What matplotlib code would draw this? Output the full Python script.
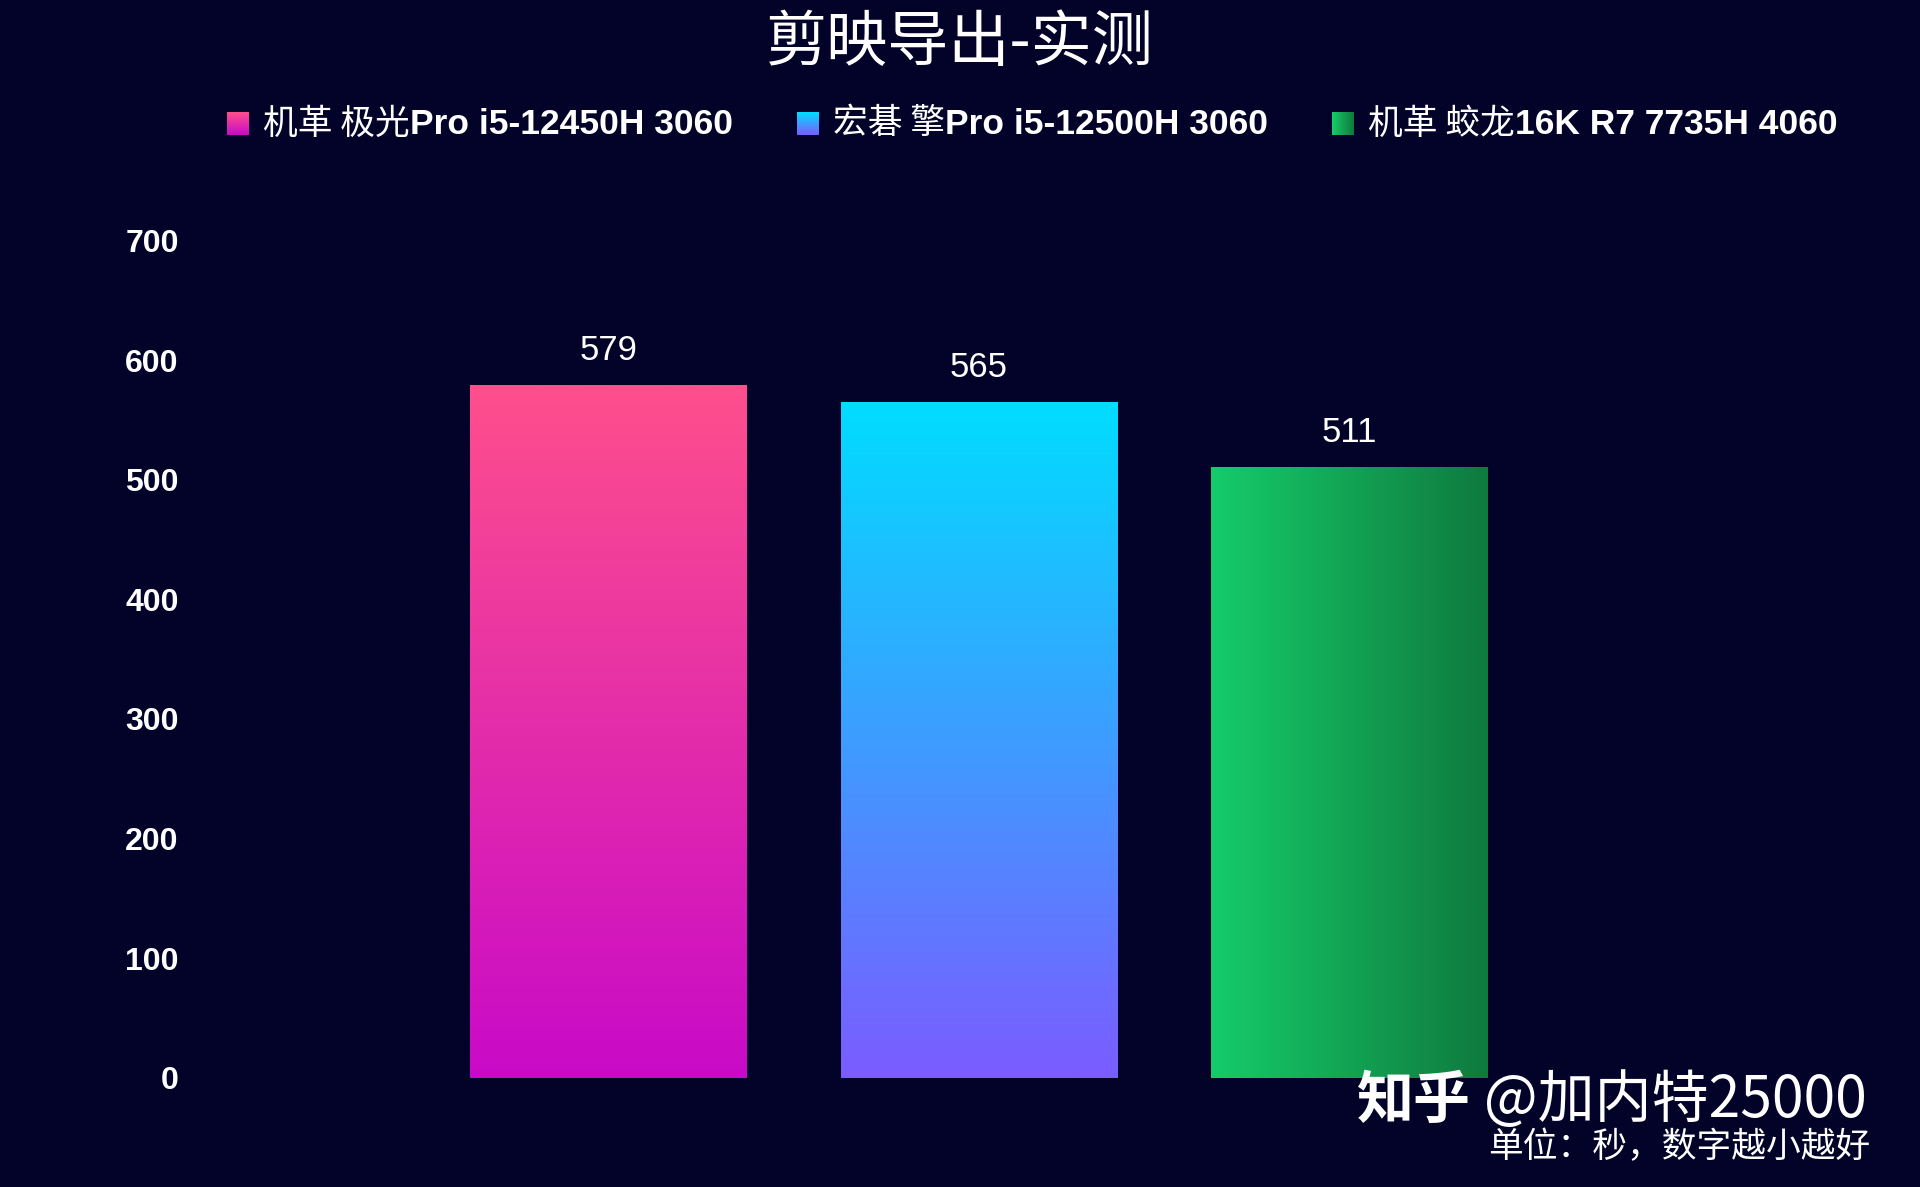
import numpy as np
import matplotlib
matplotlib.use("Agg")
import matplotlib.pyplot as plt
from matplotlib.colors import LinearSegmentedColormap

# donnees
series = ["机革 极光Pro i5-12450H 3060", "宏碁 擎Pro i5-12500H 3060", "机革 蛟龙16K R7 7735H 4060"]
legend_cjk = ["机革 极光", "宏碁 擎", "机革 蛟龙"]
legend_lat = ["Pro i5-12450H 3060", "Pro i5-12500H 3060", "16K R7 7735H 4060"]
values = [579, 565, 511]
yticks = [0, 100, 200, 300, 400, 500, 600, 700]
title = "剪映导出-实测"
unit = "单位：秒，数字越小越好"
mark_a = "知乎"
mark_b = " @加内特25000"

BG = "#03032a"
# (debut, fin, sens) du degrade de chaque barre
grads = [("#c80ac8", "#ff4f8c", "v"), ("#7b5cff", "#00ddff", "v"), ("#15cc6a", "#0f7a3e", "h")]

LAT = ["Liberation Sans", "DejaVu Sans"]
CJK = ["Noto Sans CJK SC", "DejaVu Sans"]
MIX = ["Liberation Sans", "Noto Sans CJK SC", "DejaVu Sans"]

fig = plt.figure(figsize=(19.2, 11.87), dpi=100, facecolor=BG)
ax = fig.add_axes([0.104, 0.0922, 0.87, 0.705])
ax.set_facecolor(BG)

x = np.arange(len(values))
bars = ax.bar(x, values, width=0.745, color="none", edgecolor="none")


def gradient(bar, c0, c1, sens):
    "Remplit une barre avec un degrade clippe sur le rectangle"
    cmap = LinearSegmentedColormap.from_list("g", [c0, c1])
    g = np.linspace(0, 1, 256)
    if sens == "v":
        img = g.reshape(-1, 1)
    else:
        img = g.reshape(1, -1)
    bx, by = bar.get_x(), bar.get_y()
    w, h = bar.get_width(), bar.get_height()
    im = ax.imshow(img, cmap=cmap, aspect="auto", origin="lower",
                   extent=(bx, bx + w, by, by + h), zorder=2)
    im.set_clip_path(bar)


for b, (c0, c1, s) in zip(bars, grads):
    gradient(b, c0, c1, s)

for xi, v in zip(x, values):
    ax.annotate(str(v), (xi, v), xytext=(0, 13), textcoords="offset points",
                ha="center", va="bottom", color="white", fontsize=25, family=MIX)

ax.set_xlim(-1.102, 3.405)
ax.set_ylim(0, 700)
ax.set_yticks(yticks)
ax.set_yticklabels([str(t) for t in yticks], fontsize=23, fontweight="bold",
                   color="white", family=LAT)
ax.tick_params(axis="y", length=0, pad=15)
ax.set_xticks([])
for sp in ax.spines.values():
    sp.set_visible(False)

# titre
fig.text(0.5, 0.963, title, ha="center", va="center", color="white",
         fontsize=44, fontweight="medium", family=CJK)

# legende faite a la main (texte mixte: chinois fin + latin gras)
sq_x = [227, 797, 1332]
for i in range(3):
    c0, c1, s = grads[i]
    sq = fig.add_axes([sq_x[i] / 1920, 1 - 135 / 1187, 22 / 1920, 23 / 1187])
    cm = LinearSegmentedColormap.from_list("s", [c0, c1])
    img = np.linspace(0, 1, 64).reshape(-1, 1) if s == "v" else np.linspace(0, 1, 64).reshape(1, -1)
    sq.imshow(img, cmap=cm, aspect="auto", origin="lower")
    sq.axis("off")
    t1 = fig.text((sq_x[i] + 36) / 1920, 1 - 124 / 1187, legend_cjk[i], ha="left",
                  va="center", color="white", fontsize=25, family=CJK)
    ax.annotate(legend_lat[i], xy=(1, 0.5), xycoords=t1, ha="left", va="center",
                color="white", fontsize=25.5, fontweight="bold", family=LAT,
                annotation_clip=False)

# filigrane et unite
w1 = fig.text(1357 / 1920, 1 - 1101 / 1187, mark_a, ha="left", va="center",
              color="white", fontsize=41, fontweight="bold", family=CJK)
ax.annotate(mark_b, xy=(1, 0.5), xycoords=w1, ha="left", va="center",
            color="white", fontsize=41, family=CJK,
            annotation_clip=False)
fig.text(1870 / 1920, 1 - 1148 / 1187, unit, ha="right", va="center",
         color="white", fontsize=25, family=CJK)

fig.savefig("out.png", dpi=100, facecolor=BG)
